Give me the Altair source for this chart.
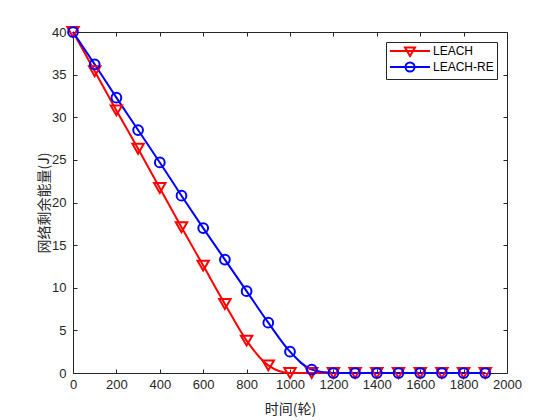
import altair as alt
import pandas as pd

rounds = [0, 100, 200, 300, 400, 500, 600, 700, 800, 900,
          1000, 1100, 1200, 1300, 1400, 1500, 1600, 1700, 1800, 1900]
leach = [40, 35.4, 30.8, 26.3, 21.7, 17.1, 12.6, 8.1, 3.8, 0.9,
         0, 0, 0, 0, 0, 0, 0, 0, 0, 0]
leach_re = [40, 36.2, 32.3, 28.5, 24.7, 20.8, 17.0, 13.3, 9.6, 5.9,
            2.5, 0.4, 0, 0, 0, 0, 0, 0, 0, 0]

x_ticks = [0, 200, 400, 600, 800, 1000, 1200, 1400, 1600, 1800, 2000]
y_ticks = [0, 5, 10, 15, 20, 25, 30, 35, 40]

series = ["LEACH", "LEACH-RE"]
colors = ["#ff0000", "#0000ff"]

df = pd.concat([
    pd.DataFrame({"round": rounds, "energy": leach, "series": "LEACH"}),
    pd.DataFrame({"round": rounds, "energy": leach_re, "series": "LEACH-RE"}),
])

x_scale = alt.Scale(domain=[0, 2000], nice=False)
y_scale = alt.Scale(domain=[0, 40], nice=False)
color_scale = alt.Scale(domain=series, range=colors)

tick_color = "#262626"

x_bottom = alt.Axis(
    values=x_ticks, format="d", orient="bottom", offset=-4, tickSize=4,
    domain=False, grid=False, labelPadding=5, labelFontSize=13,
    labelOverlap=False, labelFlush=False,
    labelFont="Liberation Sans", labelColor=tick_color, tickColor=tick_color,
    title="时间(轮)", titleFont="Noto Sans CJK SC", titleFontSize=14,
    titleFontWeight="normal", titleColor=tick_color, titlePadding=11,
)
y_left = alt.Axis(
    values=y_ticks, format="d", orient="left", offset=-4, tickSize=4,
    domain=False, grid=False, labelPadding=7, labelFontSize=13,
    labelOverlap=False, labelFlush=False,
    labelFont="Liberation Sans", labelColor=tick_color, tickColor=tick_color,
    title="网络剩余能量(J)", titleFont="Noto Sans CJK SC", titleFontSize=14,
    titleFontWeight="normal", titleColor=tick_color, titlePadding=0,
)
x_top = alt.Axis(values=x_ticks, orient="top", offset=-4,
                 tickSize=4, domain=False, grid=False, labels=False,
                 tickColor=tick_color, title=None)
y_right = alt.Axis(values=y_ticks, orient="right", offset=-4,
                   tickSize=4, domain=False, grid=False, labels=False,
                   tickColor=tick_color, title=None)

base = alt.Chart(df)

lines = base.mark_line(strokeWidth=2, interpolate="monotone").encode(
    x=alt.X("round:Q", scale=x_scale, axis=x_bottom),
    y=alt.Y("energy:Q", scale=y_scale, axis=y_left),
    color=alt.Color("series:N", scale=color_scale, legend=None),
)

points = base.mark_point(filled=False, strokeWidth=2, opacity=1).encode(
    x=alt.X("round:Q", scale=x_scale, axis=x_top),
    y=alt.Y("energy:Q", scale=y_scale, axis=y_right),
    color=alt.Color("series:N", scale=color_scale, legend=None),
    shape=alt.Shape("series:N", scale=alt.Scale(domain=series, range=["triangle-down", "circle"]), legend=None),
    size=alt.Size("series:N", scale=alt.Scale(domain=series, range=[130, 95]), legend=None),
)

# legend-only layer: line segment + marker as one symbol path
legend_paths = [
    "M-4,0L4,0M-1,-0.7L1,-0.7L0,1Z",
    "M-4,0L4,0M-0.9,0A0.9,0.9,0,1,1,0.9,0A0.9,0.9,0,1,1,-0.9,0Z",
]
legend_layer = base.transform_filter("false").mark_point(
    filled=False, strokeWidth=2, size=100, opacity=1
).encode(
    x=alt.X("round:Q", scale=x_scale, axis=None),
    y=alt.Y("energy:Q", scale=y_scale, axis=None),
    color=alt.Color("series:N", scale=alt.Scale(domain=series, range=colors),
                    legend=alt.Legend(title=None)),
    shape=alt.Shape("series:N", scale=alt.Scale(domain=series, range=legend_paths),
                    legend=alt.Legend(title=None)),
)

chart = alt.layer(lines, points, legend_layer).resolve_scale(
    color="independent", shape="independent", size="independent"
).resolve_axis(
    x="independent", y="independent"
).properties(
    width=434, height=341,
    autosize=alt.AutoSizeParams(type="none"),
    padding={"left": 65, "top": 24, "right": 45, "bottom": 46},
).configure_view(
    stroke=tick_color, strokeWidth=1
).configure_legend(
    orient="top-right", offset=10, strokeColor=tick_color, fillColor="white",
    padding=3, labelFont="Liberation Sans", labelFontSize=12, labelColor="black",
    labelOffset=17, symbolOffset=15, rowPadding=-2, symbolStrokeWidth=2,
)

chart.save("out.html", embed_options={"renderer": "svg", "actions": False})
